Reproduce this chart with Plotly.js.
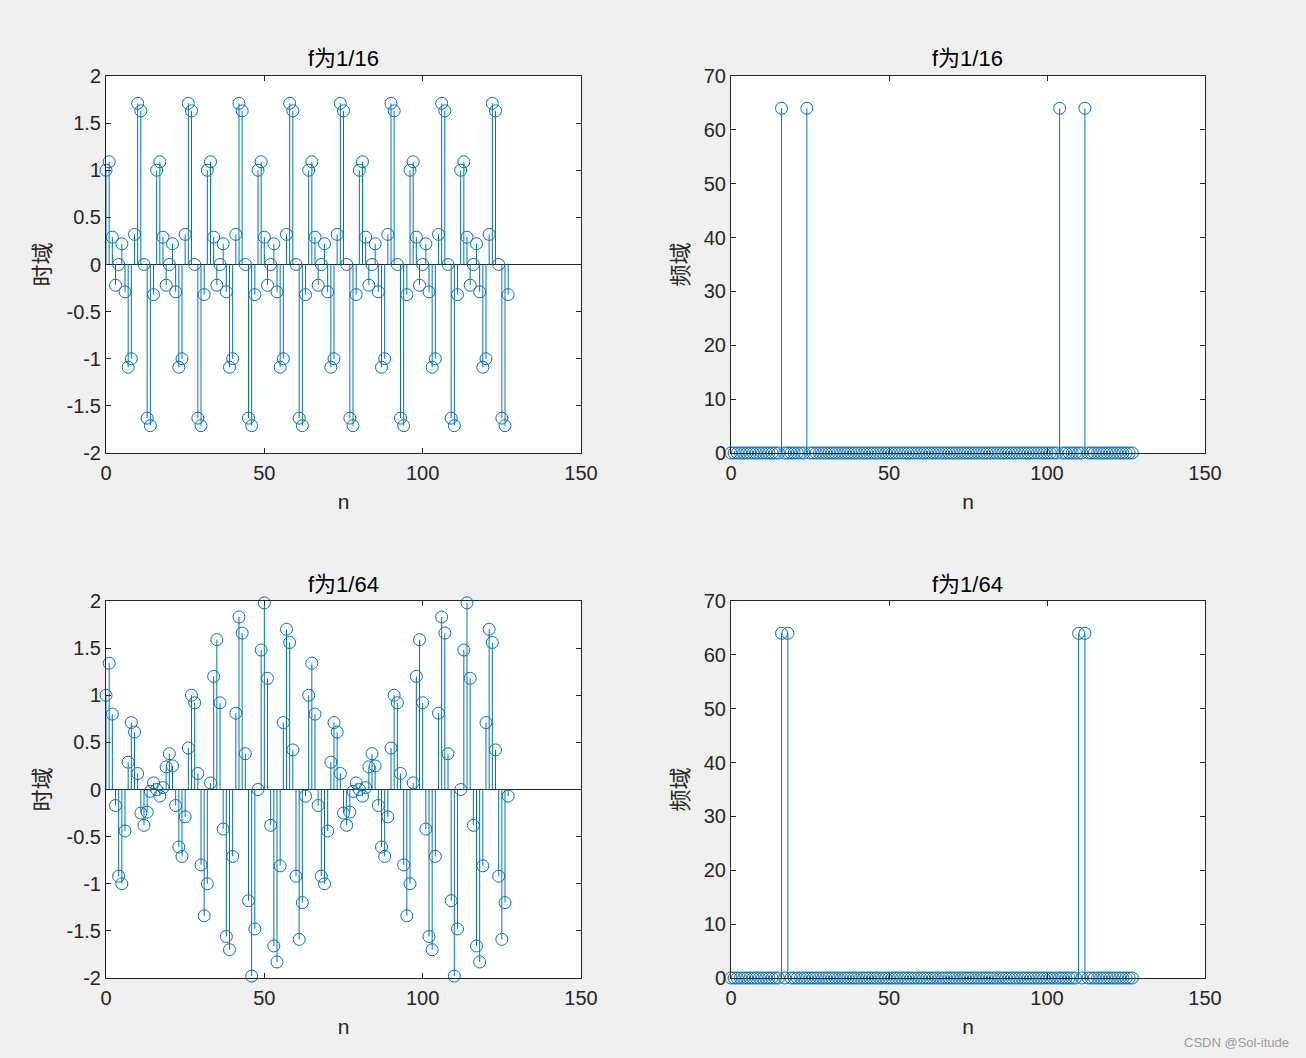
<!DOCTYPE html>
<html>
<head>
<meta charset="utf-8">
<script src="https://cdn.plot.ly/plotly-3.0.1.min.js"></script>
<style>
html,body{margin:0;padding:0;background:#f0f0f0;}
#chart{width:1306px;height:1058px;}
</style>
</head>
<body>
<div id="chart"></div>
<script>
// sample index n = 0..127
var nIndex = [];
for (var i = 0; i < 128; i++) nIndex.push(i);

// time-domain signal, f = 1/16
var timeF16 = [
 1.00,1.09,0.29,-0.22,0.00,0.22,-0.29,-1.09,-1.00,0.32,1.71,1.63,0.00,-1.63,-1.71,-0.32,
 1.00,1.09,0.29,-0.22,0.00,0.22,-0.29,-1.09,-1.00,0.32,1.71,1.63,0.00,-1.63,-1.71,-0.32,
 1.00,1.09,0.29,-0.22,0.00,0.22,-0.29,-1.09,-1.00,0.32,1.71,1.63,0.00,-1.63,-1.71,-0.32,
 1.00,1.09,0.29,-0.22,0.00,0.22,-0.29,-1.09,-1.00,0.32,1.71,1.63,0.00,-1.63,-1.71,-0.32,
 1.00,1.09,0.29,-0.22,0.00,0.22,-0.29,-1.09,-1.00,0.32,1.71,1.63,0.00,-1.63,-1.71,-0.32,
 1.00,1.09,0.29,-0.22,0.00,0.22,-0.29,-1.09,-1.00,0.32,1.71,1.63,0.00,-1.63,-1.71,-0.32,
 1.00,1.09,0.29,-0.22,0.00,0.22,-0.29,-1.09,-1.00,0.32,1.71,1.63,0.00,-1.63,-1.71,-0.32,
 1.00,1.09,0.29,-0.22,0.00,0.22,-0.29,-1.09,-1.00,0.32,1.71,1.63,0.00,-1.63,-1.71,-0.32
];

// magnitude spectrum, f = 1/16
var freqF16 = [
 0,0,0,0,0,0,0,0,0,0,0,0,0,0,0,0,
 64,0,0,0,0,0,0,0,64,0,0,0,0,0,0,0,
 0,0,0,0,0,0,0,0,0,0,0,0,0,0,0,0,
 0,0,0,0,0,0,0,0,0,0,0,0,0,0,0,0,
 0,0,0,0,0,0,0,0,0,0,0,0,0,0,0,0,
 0,0,0,0,0,0,0,0,0,0,0,0,0,0,0,0,
 0,0,0,0,0,0,0,0,64,0,0,0,0,0,0,0,
 64,0,0,0,0,0,0,0,0,0,0,0,0,0,0,0
];

// time-domain signal, f = 1/64
var timeF64 = [
 1.00,1.34,0.80,-0.17,-0.92,-1.00,-0.44,0.29,
 0.71,0.61,0.17,-0.25,-0.38,-0.24,-0.02,0.07,
 0.00,-0.07,0.02,0.24,0.38,0.25,-0.17,-0.61,
 -0.71,-0.29,0.44,1.00,0.92,0.17,-0.80,-1.34,
 -1.00,0.07,1.20,1.59,0.92,-0.42,-1.56,-1.70,
 -0.71,0.81,1.83,1.66,0.38,-1.18,-1.98,-1.48,
 0.00,1.48,1.98,1.18,-0.38,-1.66,-1.83,-0.81,
 0.71,1.70,1.56,0.42,-0.92,-1.59,-1.20,-0.07,
 1.00,1.34,0.80,-0.17,-0.92,-1.00,-0.44,0.29,
 0.71,0.61,0.17,-0.25,-0.38,-0.24,-0.02,0.07,
 0.00,-0.07,0.02,0.24,0.38,0.25,-0.17,-0.61,
 -0.71,-0.29,0.44,1.00,0.92,0.17,-0.80,-1.34,
 -1.00,0.07,1.20,1.59,0.92,-0.42,-1.56,-1.70,
 -0.71,0.81,1.83,1.66,0.38,-1.18,-1.98,-1.48,
 0.00,1.48,1.98,1.18,-0.38,-1.66,-1.83,-0.81,
 0.71,1.70,1.56,0.42,-0.92,-1.59,-1.20,-0.07
];

// magnitude spectrum, f = 1/64
var freqF64 = [
 0,0,0,0,0,0,0,0,0,0,0,0,0,0,0,0,
 64,0,64,0,0,0,0,0,0,0,0,0,0,0,0,0,
 0,0,0,0,0,0,0,0,0,0,0,0,0,0,0,0,
 0,0,0,0,0,0,0,0,0,0,0,0,0,0,0,0,
 0,0,0,0,0,0,0,0,0,0,0,0,0,0,0,0,
 0,0,0,0,0,0,0,0,0,0,0,0,0,0,0,0,
 0,0,0,0,0,0,0,0,0,0,0,0,0,0,64,0,
 64,0,0,0,0,0,0,0,0,0,0,0,0,0,0,0
];

var panelTitles = ['f为1/16', 'f为1/16', 'f为1/64', 'f为1/64'];
var xLabel = 'n';
var yLabelTime = '时域';
var yLabelFreq = '频域';
var timeTicks = [-2, -1.5, -1, -0.5, 0, 0.5, 1, 1.5, 2];
var timeTickText = ['-2', '-1.5', '-1', '-0.5', '0', '0.5', '1', '1.5', '2'];
var freqTicks = [0, 10, 20, 30, 40, 50, 60, 70];
var nTicks = [0, 50, 100, 150];

var STEM = '#0072BD';
var AX = '#262626';
var FONT = 'Liberation Sans, Arial, Helvetica, Noto Sans CJK SC, sans-serif';

function stemTraces(xs, ys, xa, ya) {
  var lx = [], ly = [];
  for (var i = 0; i < xs.length; i++) {
    lx.push(xs[i], xs[i], null);
    ly.push(0, ys[i], null);
  }
  return [
    {x: lx, y: ly, xaxis: xa, yaxis: ya, type: 'scatter', mode: 'lines',
     line: {color: STEM, width: 1}, hoverinfo: 'skip', showlegend: false},
    {x: xs, y: ys, xaxis: xa, yaxis: ya, type: 'scatter', mode: 'markers', cliponaxis: false,
     marker: {symbol: 'circle-open', size: 12, color: STEM, line: {width: 1, color: STEM}},
     showlegend: false}
  ];
}

var data = [].concat(
  stemTraces(nIndex, timeF16, 'x', 'y'),
  stemTraces(nIndex, freqF16, 'x2', 'y2'),
  stemTraces(nIndex, timeF64, 'x3', 'y3'),
  stemTraces(nIndex, freqF64, 'x4', 'y4')
);

var W = 1306, H = 1058;
function px(v) { return v / W; }
function py(v) { return 1 - v / H; }

var dLeft = [px(106), px(581)];
var dRight = [px(731), px(1205)];
var dTop = [py(453), py(76)];
var dBot = [py(978), py(601)];

function xAxis(domain, anchor) {
  return {
    domain: domain, anchor: anchor, range: [0, 150], tickvals: nTicks,
    ticks: 'inside', ticklen: 5, tickcolor: AX, tickwidth: 1,
    showline: true, linecolor: AX, linewidth: 1, mirror: 'allticks',
    showgrid: false, zeroline: false, ticklabelstandoff: 2,
    tickfont: {family: FONT, size: 20, color: AX},
    title: {text: xLabel, font: {family: FONT, size: 21, color: AX}, standoff: 11}
  };
}
function yAxisTime(domain, anchor) {
  return {
    domain: domain, anchor: anchor, range: [-2, 2], tickvals: timeTicks, ticktext: timeTickText,
    ticks: 'inside', ticklen: 5, tickcolor: AX, tickwidth: 1,
    showline: true, linecolor: AX, linewidth: 1, mirror: 'allticks',
    showgrid: false, zeroline: true, zerolinecolor: AX, zerolinewidth: 1,
    tickfont: {family: FONT, size: 20, color: AX},
    title: {text: yLabelTime, font: {family: FONT, size: 22, color: AX}, standoff: 9}
  };
}
function yAxisFreq(domain, anchor) {
  return {
    domain: domain, anchor: anchor, range: [0, 70], tickvals: freqTicks,
    ticks: 'inside', ticklen: 5, tickcolor: AX, tickwidth: 1,
    showline: true, linecolor: AX, linewidth: 1, mirror: 'allticks',
    showgrid: false, zeroline: false,
    tickfont: {family: FONT, size: 20, color: AX},
    title: {text: yLabelFreq, font: {family: FONT, size: 22, color: AX}, standoff: 9}
  };
}

var titleFont = {family: FONT, size: 22, color: '#000000'};
var annotations = [
  {text: panelTitles[0], x: (dLeft[0] + dLeft[1]) / 2, y: py(59), xref: 'paper', yref: 'paper', xanchor: 'center', yanchor: 'middle', showarrow: false, font: titleFont},
  {text: panelTitles[1], x: (dRight[0] + dRight[1]) / 2, y: py(59), xref: 'paper', yref: 'paper', xanchor: 'center', yanchor: 'middle', showarrow: false, font: titleFont},
  {text: panelTitles[2], x: (dLeft[0] + dLeft[1]) / 2, y: py(584), xref: 'paper', yref: 'paper', xanchor: 'center', yanchor: 'middle', showarrow: false, font: titleFont},
  {text: panelTitles[3], x: (dRight[0] + dRight[1]) / 2, y: py(584), xref: 'paper', yref: 'paper', xanchor: 'center', yanchor: 'middle', showarrow: false, font: titleFont},
  {text: 'CSDN @Sol-itude', x: px(1291), y: py(1042), xref: 'paper', yref: 'paper', xanchor: 'right', yanchor: 'middle', showarrow: false, font: {family: FONT, size: 13, color: '#9a9a9a'}}
];

var layout = {
  width: W, height: H,
  margin: {l: 0, r: 0, t: 0, b: 0, pad: 0},
  paper_bgcolor: '#f0f0f0', plot_bgcolor: '#ffffff',
  showlegend: false,
  xaxis: xAxis(dLeft, 'y'), yaxis: yAxisTime(dTop, 'x'),
  xaxis2: xAxis(dRight, 'y2'), yaxis2: yAxisFreq(dTop, 'x2'),
  xaxis3: xAxis(dLeft, 'y3'), yaxis3: yAxisTime(dBot, 'x3'),
  xaxis4: xAxis(dRight, 'y4'), yaxis4: yAxisFreq(dBot, 'x4'),
  annotations: annotations
};

Plotly.newPlot('chart', data, layout, {displayModeBar: false, staticPlot: true});
</script>
</body>
</html>
